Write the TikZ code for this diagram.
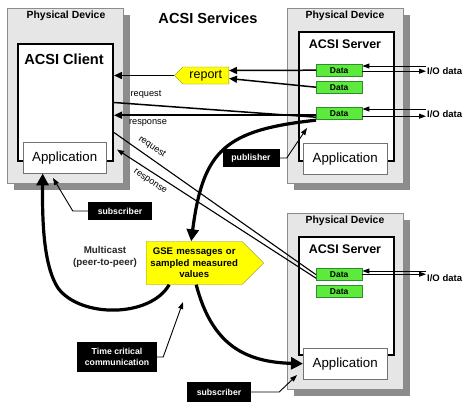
\documentclass[tikz,border=0pt]{standalone}
\usepackage{fontspec}
\setmainfont{Liberation Sans}
\usetikzlibrary{arrows.meta,shapes.symbols,shadows}
\definecolor{devgray}{HTML}{E6E6E6}
\definecolor{datagreen}{HTML}{5CEB3C}
\definecolor{datarim}{HTML}{2E8B2E}
\definecolor{sigyellow}{HTML}{FFFF00}
\definecolor{sigrim}{HTML}{8C8C1E}
\begin{document}
\begin{tikzpicture}[x=1pt, y=-1pt,
  device/.style={draw=black!45, fill=devgray, anchor=north west, inner sep=0pt,
    minimum width=116pt, minimum height=175pt,
    drop shadow={shadow xshift=7pt, shadow yshift=-7pt, fill=black!45, opacity=1}},
  acsibox/.style={draw, line width=2pt, fill=white, anchor=north west, inner sep=0pt},
  appbox/.style={draw=black!55, fill=white, anchor=north west, inner sep=0pt,
    minimum width=84pt, minimum height=31pt, font=\fontsize{13.3}{15}\selectfont},
  databox/.style={draw=datarim, fill=datagreen, anchor=north west, inner sep=0pt,
    minimum width=46pt, minimum height=12pt, font=\fontsize{8.5}{9}\selectfont\bfseries},
  devtitle/.style={font=\fontsize{10.4}{12}\selectfont\bfseries},
  tag/.style={fill=black, text=white, align=center, inner sep=0pt,
    font=\fontsize{8.7}{10.5}\selectfont\bfseries},
  small/.style={font=\fontsize{9.2}{11}\selectfont},
  iotext/.style={anchor=west, inner sep=1pt, font=\fontsize{9.5}{11}\selectfont\bfseries},
  arr/.style={line width=1.5pt, -{Triangle[length=8pt,width=7pt]}},
  thinarr/.style={line width=0.9pt, -{Triangle[length=7pt,width=5pt]}},
  fatarr/.style={line width=3.2pt, -{Triangle[length=12pt,width=12pt]}}]
  \useasboundingbox (0,0) rectangle (474,408);

  % left device with the client
  \node[device] (pdL) at (7,8) {};
  \node[devtitle] (pdLt) at (66,16) {Physical Device};
  \node[acsibox, minimum width=95pt, minimum height=117pt] (client) at (17,43) {};
  \node[font=\fontsize{14.6}{17}\selectfont\bfseries] (clientT) at (64,59) {ACSI Client};
  \node[appbox, minimum width=83pt] (appL) at (23,142) {Application};

  \node[font=\fontsize{14.6}{17}\selectfont\bfseries] (title) at (208,18) {ACSI Services};

  % right upper device
  \node[device] (pdA) at (287,8) {};
  \node[devtitle] (pdAt) at (345,16) {Physical Device};
  \node[acsibox, minimum width=95pt, minimum height=129pt] (srvA) at (298,31) {};
  \node[font=\fontsize{12.5}{15}\selectfont\bfseries] (srvAt) at (345,44) {ACSI Server};
  \node[databox] (d1) at (316,64) {Data};
  \node[databox] (d2) at (316,81) {Data};
  \node[databox] (d3) at (316,107) {Data};
  \node[appbox] (appA) at (303,143) {Application};

  % right lower device
  \node[device, minimum height=176pt] (pdB) at (287,213) {};
  \node[devtitle] (pdBt) at (345,221) {Physical Device};
  \node[acsibox, minimum width=95pt, minimum height=118pt] (srvB) at (298,236) {};
  \node[font=\fontsize{12.5}{15}\selectfont\bfseries] (srvBt) at (345,249) {ACSI Server};
  \node[databox] (d4) at (316,268) {Data};
  \node[databox] (d5) at (316,285) {Data};
  \node[appbox] (appB) at (303,348) {Application};

  % process data
  \node[iotext] (io1) at (426,71) {I/O data};
  \node[iotext] (io2) at (426,114) {I/O data};
  \node[iotext] (io3) at (426,278) {I/O data};
  \draw[thinarr] ([yshift=5pt]io1.west) -- ([yshift=5pt]io1.west -| d1.east);
  \draw[thinarr] ([yshift=-1pt]d1.east) -- ([yshift=-1pt]d1.east -| io1.west);
  \draw[thinarr] ([yshift=5pt]io2.west) -- ([yshift=5pt]io2.west -| d3.east);
  \draw[thinarr] ([yshift=-3pt]d3.east) -- ([yshift=-3pt]d3.east -| io2.west);
  \draw[thinarr] ([yshift=7pt]io3.west) -- ([yshift=7pt]io3.west -| d4.east);
  \draw[thinarr] ([yshift=0pt]d4.east) -- ([yshift=0pt]d4.east -| io3.west);

  % report
  \node[signal, signal to=west, draw=sigrim, fill=sigyellow, anchor=east, inner sep=1pt,
    minimum height=17pt, text width=44pt, align=center,
    font=\fontsize{12.5}{14}\selectfont] (rep) at (229,75.5) {report};
  \draw[arr] (d1.west) -- ([yshift=5pt]rep.east);
  \draw[arr] (d2.west) -- ([yshift=-3pt]rep.east);
  \draw[arr] (rep.west) -- (rep.west -| client.east);

  % client server exchange
  \draw[line width=1.5pt] (client.east) -- ([yshift=-4pt]d3.west);
  \draw[arr] ([yshift=-2pt]d3.west) -- ([yshift=-2pt]d3.west -| client.east);
  \node[small] (req1) at (146,94) {request};
  \node[small] (resp1) at (148,123) {response};
  \draw[line width=1.1pt] ([yshift=-30pt]client.east) -- ([yshift=-0.5pt]d4.west);
  \draw[thinarr, line width=1.1pt] ([yshift=-4pt]d4.west) -- ([yshift=-47pt, xshift=3pt]client.east);
  \node[small, rotate=-34] (req2) at (152,147) {request};
  \node[small, rotate=-34] (resp2) at (150,182) {response};

  % publisher
  \node[tag, minimum width=57pt, minimum height=18pt] (pub) at (251,158) {publisher};
  \coordinate (pubtip) at (307,128);
  \draw[thinarr] (pub.east) -- ++(7,0) -- (pubtip);

  % GSE
  \node[signal, signal to=east, draw=sigrim, fill=sigyellow, anchor=west, inner sep=2pt,
    minimum height=43pt, text width=92pt, align=center,
    font=\fontsize{9.6}{11.5}\selectfont\bfseries] (gse) at (146,263)
    {GSE messages or\\sampled measured\\values};
  \draw[fatarr] ([yshift=-7pt]d3.west) .. controls (225,130) and (203,150) .. ([xshift=-3pt]gse.north);
  \draw[fatarr] ([xshift=2pt]gse.south) .. controls (212,345) and (245,362) .. (appB.west);
  \draw[fatarr] ([xshift=-25pt]gse.south) .. controls (150,318) and (80,318) .. (58,288)
    .. controls (45,268) and (42,230) .. ([xshift=-22pt]appL.south);
  \node[font=\fontsize{9.8}{12}\selectfont\bfseries, text=black!85, align=center] (mc) at (105,257)
    {Multicast\\(peer-to-peer)};

  % subscribers
  \node[tag, minimum width=64pt, minimum height=18pt] (subL) at (120,211) {subscriber};
  \coordinate (subLtip) at (53,178);
  \draw[thinarr] (subL.west) -- ++(-15,0) -- (subLtip);
  \node[tag, minimum width=80pt, minimum height=30pt] (tc) at (117,357) {Time critical\\communication};
  \coordinate (tctip) at (183,302);
  \draw[thinarr] (tc.east) -- ++(6,0) -- (tctip);
  \node[tag, minimum width=64pt, minimum height=20pt] (subB) at (219,392) {subscriber};
  \coordinate (subBtip) at (297,375);
  \draw[thinarr] (subB.east) -- ++(28,0) -- (subBtip);
\end{tikzpicture}
\end{document}
